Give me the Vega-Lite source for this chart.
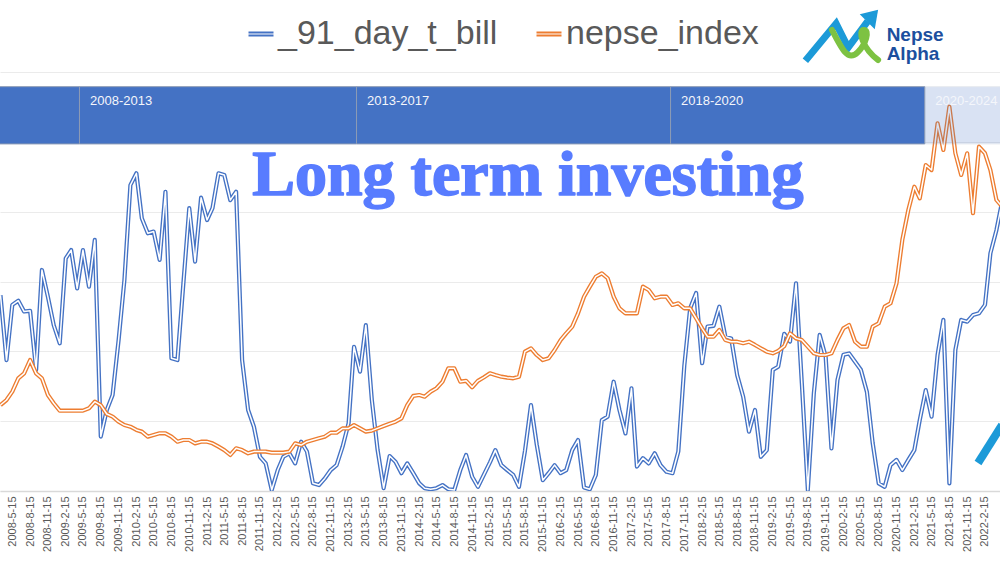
{
  "$schema": "https://vega.github.io/schema/vega-lite/v6.json",
  "width": 1000,
  "height": 563,
  "autosize": {"type": "none", "contains": "padding"},
  "padding": {"left": 0, "top": 72, "right": 0, "bottom": 72},
  "background": "#ffffff",
  "config": {
    "view": {"stroke": null},
    "font": "Liberation Sans",
    "axisX": {
      "labelAngle": 270, "labelPadding": 5, "labelFontSize": 11, "labelColor": "#595959", "labelFont": "Liberation Sans",
      "labelOverlap": false, "labelFlush": false, "ticks": false, "grid": false, "domainColor": "#D9D9D9", "domainWidth": 1.5
    }
  },
  "datasets": {
    "monthly": [
      {"date": "2008-03-15", "t_bill": 5.61, "nepse": 718},
      {"date": "2008-04-15", "t_bill": 3.75, "nepse": 760},
      {"date": "2008-05-15", "t_bill": 5.33, "nepse": 830},
      {"date": "2008-06-15", "t_bill": 5.45, "nepse": 941},
      {"date": "2008-07-15", "t_bill": 5.14, "nepse": 983},
      {"date": "2008-08-15", "t_bill": 5.16, "nepse": 1094},
      {"date": "2008-09-15", "t_bill": 3.47, "nepse": 983},
      {"date": "2008-10-15", "t_bill": 6.33, "nepse": 941},
      {"date": "2008-11-15", "t_bill": 5.56, "nepse": 802},
      {"date": "2008-12-15", "t_bill": 4.75, "nepse": 733},
      {"date": "2009-01-15", "t_bill": 4.23, "nepse": 671},
      {"date": "2009-02-15", "t_bill": 6.66, "nepse": 671},
      {"date": "2009-03-15", "t_bill": 6.90, "nepse": 671},
      {"date": "2009-04-15", "t_bill": 5.80, "nepse": 671},
      {"date": "2009-05-15", "t_bill": 6.90, "nepse": 671},
      {"date": "2009-06-15", "t_bill": 5.85, "nepse": 691},
      {"date": "2009-07-15", "t_bill": 7.19, "nepse": 746},
      {"date": "2009-08-15", "t_bill": 1.56, "nepse": 718},
      {"date": "2009-09-15", "t_bill": 2.32, "nepse": 643},
      {"date": "2009-10-15", "t_bill": 2.75, "nepse": 621},
      {"date": "2009-11-15", "t_bill": 4.32, "nepse": 579},
      {"date": "2009-12-15", "t_bill": 6.04, "nepse": 551},
      {"date": "2010-01-15", "t_bill": 8.76, "nepse": 537},
      {"date": "2010-02-15", "t_bill": 9.10, "nepse": 510},
      {"date": "2010-03-15", "t_bill": 7.81, "nepse": 496},
      {"date": "2010-04-15", "t_bill": 7.38, "nepse": 454},
      {"date": "2010-05-15", "t_bill": 7.43, "nepse": 468},
      {"date": "2010-06-15", "t_bill": 6.62, "nepse": 482},
      {"date": "2010-07-15", "t_bill": 8.57, "nepse": 482},
      {"date": "2010-08-15", "t_bill": 3.80, "nepse": 454},
      {"date": "2010-09-15", "t_bill": 3.75, "nepse": 412},
      {"date": "2010-10-15", "t_bill": 5.90, "nepse": 426},
      {"date": "2010-11-15", "t_bill": 8.10, "nepse": 426},
      {"date": "2010-12-15", "t_bill": 6.57, "nepse": 398},
      {"date": "2011-01-15", "t_bill": 8.40, "nepse": 412},
      {"date": "2011-02-15", "t_bill": 7.76, "nepse": 412},
      {"date": "2011-03-15", "t_bill": 8.10, "nepse": 398},
      {"date": "2011-04-15", "t_bill": 9.10, "nepse": 370},
      {"date": "2011-05-15", "t_bill": 9.05, "nepse": 342},
      {"date": "2011-06-15", "t_bill": 8.33, "nepse": 301},
      {"date": "2011-07-15", "t_bill": 8.57, "nepse": 357},
      {"date": "2011-08-15", "t_bill": 3.75, "nepse": 342},
      {"date": "2011-09-15", "t_bill": 2.32, "nepse": 315},
      {"date": "2011-10-15", "t_bill": 1.84, "nepse": 329},
      {"date": "2011-11-15", "t_bill": 0.98, "nepse": 329},
      {"date": "2011-12-15", "t_bill": 0.79, "nepse": 329},
      {"date": "2012-01-15", "t_bill": 0.03, "nepse": 320},
      {"date": "2012-02-15", "t_bill": 0.60, "nepse": 320},
      {"date": "2012-03-15", "t_bill": 0.98, "nepse": 320},
      {"date": "2012-04-15", "t_bill": 1.08, "nepse": 329},
      {"date": "2012-05-15", "t_bill": 0.79, "nepse": 398},
      {"date": "2012-06-15", "t_bill": 1.41, "nepse": 384},
      {"date": "2012-07-15", "t_bill": 1.13, "nepse": 412},
      {"date": "2012-08-15", "t_bill": 0.22, "nepse": 426},
      {"date": "2012-09-15", "t_bill": 0.17, "nepse": 440},
      {"date": "2012-10-15", "t_bill": 0.36, "nepse": 454},
      {"date": "2012-11-15", "t_bill": 0.60, "nepse": 487},
      {"date": "2012-12-15", "t_bill": 0.74, "nepse": 487},
      {"date": "2013-01-15", "t_bill": 1.27, "nepse": 523},
      {"date": "2013-02-15", "t_bill": 1.94, "nepse": 523},
      {"date": "2013-03-15", "t_bill": 4.13, "nepse": 551},
      {"date": "2013-04-15", "t_bill": 3.42, "nepse": 523},
      {"date": "2013-05-15", "t_bill": 4.75, "nepse": 496},
      {"date": "2013-06-15", "t_bill": 2.61, "nepse": 504},
      {"date": "2013-07-15", "t_bill": 1.17, "nepse": 523},
      {"date": "2013-08-15", "t_bill": 0.08, "nepse": 543},
      {"date": "2013-09-15", "t_bill": 1.00, "nepse": 562},
      {"date": "2013-10-15", "t_bill": 0.84, "nepse": 579},
      {"date": "2013-11-15", "t_bill": 0.51, "nepse": 607},
      {"date": "2013-12-15", "t_bill": 0.79, "nepse": 718},
      {"date": "2014-01-15", "t_bill": 0.51, "nepse": 794},
      {"date": "2014-02-15", "t_bill": 0.22, "nepse": 802},
      {"date": "2014-03-15", "t_bill": 0.08, "nepse": 788},
      {"date": "2014-04-15", "t_bill": 0.05, "nepse": 830},
      {"date": "2014-05-15", "t_bill": 0.08, "nepse": 858},
      {"date": "2014-06-15", "t_bill": 0.17, "nepse": 913},
      {"date": "2014-07-15", "t_bill": 0.05, "nepse": 1025},
      {"date": "2014-08-15", "t_bill": 0.03, "nepse": 1025},
      {"date": "2014-09-15", "t_bill": 0.60, "nepse": 913},
      {"date": "2014-10-15", "t_bill": 1.03, "nepse": 920},
      {"date": "2014-11-15", "t_bill": 0.41, "nepse": 866},
      {"date": "2014-12-15", "t_bill": 0.12, "nepse": 920},
      {"date": "2015-01-15", "t_bill": 0.47, "nepse": 950},
      {"date": "2015-02-15", "t_bill": 0.82, "nepse": 983},
      {"date": "2015-03-15", "t_bill": 1.17, "nepse": 969},
      {"date": "2015-04-15", "t_bill": 0.74, "nepse": 955},
      {"date": "2015-05-15", "t_bill": 0.60, "nepse": 947},
      {"date": "2015-06-15", "t_bill": 0.46, "nepse": 941},
      {"date": "2015-07-15", "t_bill": 0.12, "nepse": 955},
      {"date": "2015-08-15", "t_bill": 1.15, "nepse": 1164},
      {"date": "2015-09-15", "t_bill": 2.46, "nepse": 1192},
      {"date": "2015-10-15", "t_bill": 1.32, "nepse": 1136},
      {"date": "2015-11-15", "t_bill": 0.31, "nepse": 1094},
      {"date": "2015-12-15", "t_bill": 0.51, "nepse": 1108},
      {"date": "2016-01-15", "t_bill": 0.74, "nepse": 1178},
      {"date": "2016-02-15", "t_bill": 0.51, "nepse": 1261},
      {"date": "2016-03-15", "t_bill": 0.60, "nepse": 1317},
      {"date": "2016-04-15", "t_bill": 1.17, "nepse": 1373},
      {"date": "2016-05-15", "t_bill": 1.46, "nepse": 1484},
      {"date": "2016-06-15", "t_bill": 0.10, "nepse": 1623},
      {"date": "2016-07-15", "t_bill": 0.05, "nepse": 1707},
      {"date": "2016-08-15", "t_bill": 0.46, "nepse": 1790},
      {"date": "2016-09-15", "t_bill": 2.03, "nepse": 1818},
      {"date": "2016-10-15", "t_bill": 2.13, "nepse": 1777},
      {"date": "2016-11-15", "t_bill": 3.13, "nepse": 1623},
      {"date": "2016-12-15", "t_bill": 2.32, "nepse": 1526},
      {"date": "2017-01-15", "t_bill": 1.65, "nepse": 1484},
      {"date": "2017-02-15", "t_bill": 2.94, "nepse": 1484},
      {"date": "2017-03-15", "t_bill": 0.70, "nepse": 1484},
      {"date": "2017-04-15", "t_bill": 0.94, "nepse": 1707},
      {"date": "2017-05-15", "t_bill": 0.79, "nepse": 1679},
      {"date": "2017-06-15", "t_bill": 1.08, "nepse": 1610},
      {"date": "2017-07-15", "t_bill": 0.74, "nepse": 1623},
      {"date": "2017-08-15", "t_bill": 0.55, "nepse": 1623},
      {"date": "2017-09-15", "t_bill": 0.51, "nepse": 1554},
      {"date": "2017-10-15", "t_bill": 1.13, "nepse": 1568},
      {"date": "2017-11-15", "t_bill": 3.59, "nepse": 1526},
      {"date": "2017-12-15", "t_bill": 5.23, "nepse": 1526},
      {"date": "2018-01-15", "t_bill": 5.67, "nepse": 1443},
      {"date": "2018-02-15", "t_bill": 3.66, "nepse": 1359},
      {"date": "2018-03-15", "t_bill": 4.71, "nepse": 1289},
      {"date": "2018-04-15", "t_bill": 4.73, "nepse": 1289},
      {"date": "2018-05-15", "t_bill": 5.28, "nepse": 1345},
      {"date": "2018-06-15", "t_bill": 4.42, "nepse": 1261},
      {"date": "2018-07-15", "t_bill": 4.37, "nepse": 1247},
      {"date": "2018-08-15", "t_bill": 3.32, "nepse": 1247},
      {"date": "2018-09-15", "t_bill": 2.70, "nepse": 1234},
      {"date": "2018-10-15", "t_bill": 1.70, "nepse": 1247},
      {"date": "2018-11-15", "t_bill": 2.32, "nepse": 1220},
      {"date": "2018-12-15", "t_bill": 0.98, "nepse": 1192},
      {"date": "2019-01-15", "t_bill": 1.17, "nepse": 1164},
      {"date": "2019-02-15", "t_bill": 3.47, "nepse": 1150},
      {"date": "2019-03-15", "t_bill": 3.56, "nepse": 1170},
      {"date": "2019-04-15", "t_bill": 4.50, "nepse": 1210},
      {"date": "2019-05-15", "t_bill": 4.28, "nepse": 1317},
      {"date": "2019-06-15", "t_bill": 5.95, "nepse": 1275},
      {"date": "2019-07-15", "t_bill": 3.08, "nepse": 1261},
      {"date": "2019-08-15", "t_bill": 0.03, "nepse": 1206},
      {"date": "2019-09-15", "t_bill": 2.80, "nepse": 1150},
      {"date": "2019-10-15", "t_bill": 4.47, "nepse": 1136},
      {"date": "2019-11-15", "t_bill": 3.85, "nepse": 1136},
      {"date": "2019-12-15", "t_bill": 1.22, "nepse": 1150},
      {"date": "2020-01-15", "t_bill": 3.18, "nepse": 1261},
      {"date": "2020-02-15", "t_bill": 3.90, "nepse": 1359},
      {"date": "2020-03-15", "t_bill": 3.94, "nepse": 1387},
      {"date": "2020-04-15", "t_bill": 3.70, "nepse": 1247},
      {"date": "2020-05-15", "t_bill": 3.47, "nepse": 1206},
      {"date": "2020-06-15", "t_bill": 2.84, "nepse": 1206},
      {"date": "2020-07-15", "t_bill": 1.37, "nepse": 1373},
      {"date": "2020-08-15", "t_bill": 0.22, "nepse": 1401},
      {"date": "2020-09-15", "t_bill": 0.12, "nepse": 1540},
      {"date": "2020-10-15", "t_bill": 0.74, "nepse": 1568},
      {"date": "2020-11-15", "t_bill": 0.89, "nepse": 1735},
      {"date": "2020-12-15", "t_bill": 0.60, "nepse": 2097},
      {"date": "2021-01-15", "t_bill": 0.89, "nepse": 2347},
      {"date": "2021-02-15", "t_bill": 1.17, "nepse": 2542},
      {"date": "2021-03-15", "t_bill": 2.03, "nepse": 2445},
      {"date": "2021-04-15", "t_bill": 2.89, "nepse": 2723},
      {"date": "2021-05-15", "t_bill": 2.13, "nepse": 2681},
      {"date": "2021-06-15", "t_bill": 3.90, "nepse": 3071},
      {"date": "2021-07-15", "t_bill": 4.90, "nepse": 2849},
      {"date": "2021-08-15", "t_bill": 0.22, "nepse": 3210},
      {"date": "2021-09-15", "t_bill": 4.04, "nepse": 2821},
      {"date": "2021-10-15", "t_bill": 4.90, "nepse": 2640},
      {"date": "2021-11-15", "t_bill": 4.85, "nepse": 2821},
      {"date": "2021-12-15", "t_bill": 5.04, "nepse": 2320},
      {"date": "2022-01-15", "t_bill": 5.09, "nepse": 2876},
      {"date": "2022-02-15", "t_bill": 5.33, "nepse": 2821},
      {"date": "2022-03-15", "t_bill": 6.81, "nepse": 2681},
      {"date": "2022-04-15", "t_bill": 7.47, "nepse": 2431},
      {"date": "2022-05-15", "t_bill": 8.30, "nepse": 2375}
    ],
    "periods": [
      {"start": "2007-12-01", "end": "2009-04-27", "period": null, "status": "past"},
      {"start": "2009-04-27", "end": "2013-03-28", "period": "2008-2013", "status": "past"},
      {"start": "2013-03-28", "end": "2017-09-05", "period": "2013-2017", "status": "past"},
      {"start": "2017-09-05", "end": "2021-04-10", "period": "2018-2020", "status": "past"},
      {"start": "2021-04-10", "end": "2024-12-31", "period": "2020-2024", "status": "current"}
    ]
  },
  "layer": [
    {
      "data": {"name": "monthly"},
      "mark": {"type": "line", "clip": true, "strokeWidth": 4.2, "strokeJoin": "round"},
      "encoding": {
        "x": {
          "field": "date", "type": "temporal", "title": null,
          "scale": {"type": "utc", "domain": [1205323200000, 1651579200000]},
          "axis": {
            "format": "%Y-%-m-%-d",
            "labelOverlap": false,
            "labelBound": false,
            "labelSeparation": 0,
            "tickCount": 200,
            "values": [
              1210809600000, 1218758400000, 1226707200000,
              1234656000000, 1242345600000, 1250294400000, 1258243200000,
              1266192000000, 1273881600000, 1281830400000, 1289779200000,
              1297728000000, 1305417600000, 1313366400000, 1321315200000,
              1329264000000, 1337040000000, 1344988800000, 1352937600000,
              1360886400000, 1368576000000, 1376524800000, 1384473600000,
              1392422400000, 1400112000000, 1408060800000, 1416009600000,
              1423958400000, 1431648000000, 1439596800000, 1447545600000,
              1455494400000, 1463270400000, 1471219200000, 1479168000000,
              1487116800000, 1494806400000, 1502755200000, 1510704000000,
              1518652800000, 1526342400000, 1534291200000, 1542240000000,
              1550188800000, 1557878400000, 1565827200000, 1573776000000,
              1581724800000, 1589500800000, 1597449600000, 1605398400000,
              1613347200000, 1621036800000, 1628985600000, 1636934400000,
              1644883200000
            ]
          }
        },
        "y": {
          "field": "t_bill", "type": "quantitative", "title": null,
          "scale": {"domain": [0, 12], "nice": false},
          "axis": {"values": [0, 2, 4, 6, 8, 10, 12], "labels": false, "ticks": false, "domain": false, "grid": true, "gridColor": "#EBEBEB", "gridWidth": 1}
        },
        "color": {
          "datum": "_91_day_t_bill", "type": "nominal",
          "scale": {"domain": ["_91_day_t_bill", "nepse_index"], "range": ["#4472C4", "#ED7D31"]},
          "legend": {
            "orient": "none", "legendX": 244, "legendY": -55, "direction": "horizontal", "title": null, "padding": 0,
            "symbolType": "M-1,-0.12H1M-1,0.12H1", "symbolSize": 625, "symbolStrokeWidth": 2,
            "labelFontSize": 34, "labelColor": "#595959", "labelFont": "Liberation Sans", "labelOffset": 0, "labelLimit": 400,
            "columnPadding": 34
          }
        }
      }
    },
    {
      "data": {"name": "monthly"},
      "mark": {"type": "line", "clip": true, "strokeWidth": 1.5, "strokeJoin": "round", "color": "#ffffff"},
      "encoding": {
        "x": {"field": "date", "type": "temporal", "title": null, "scale": {"type": "utc", "domain": [1205323200000, 1651579200000]}},
        "y": {"field": "t_bill", "type": "quantitative", "axis": null, "scale": {"domain": [0, 12], "nice": false}}
      }
    },
    {
      "data": {"name": "monthly"},
      "mark": {"type": "line", "clip": true, "strokeWidth": 4.2, "strokeJoin": "round"},
      "encoding": {
        "x": {"field": "date", "type": "temporal", "title": null, "scale": {"type": "utc", "domain": [1205323200000, 1651579200000]}},
        "y": {"field": "nepse", "type": "quantitative", "axis": null, "scale": {"domain": [0, 3500], "nice": false}},
        "color": {
          "datum": "nepse_index", "type": "nominal",
          "scale": {"domain": ["_91_day_t_bill", "nepse_index"], "range": ["#4472C4", "#ED7D31"]},
          "legend": {
            "orient": "none", "legendX": 244, "legendY": -55, "direction": "horizontal", "title": null, "padding": 0,
            "symbolType": "M-1,-0.12H1M-1,0.12H1", "symbolSize": 625, "symbolStrokeWidth": 2,
            "labelFontSize": 34, "labelColor": "#595959", "labelFont": "Liberation Sans", "labelOffset": 0, "labelLimit": 400,
            "columnPadding": 34
          }
        }
      }
    },
    {
      "data": {"name": "monthly"},
      "mark": {"type": "line", "clip": true, "strokeWidth": 1.5, "strokeJoin": "round", "color": "#ffffff"},
      "encoding": {
        "x": {"field": "date", "type": "temporal", "title": null, "scale": {"type": "utc", "domain": [1205323200000, 1651579200000]}},
        "y": {"field": "nepse", "type": "quantitative", "axis": null, "scale": {"domain": [0, 3500], "nice": false}}
      }
    },
    {
      "data": {"name": "periods"},
      "mark": {"type": "rect", "clip": true, "color": "#4472C4", "stroke": "#8C9BB5", "strokeWidth": 1},
      "encoding": {
        "x": {"field": "start", "type": "temporal", "title": null, "scale": {"type": "utc", "domain": [1205323200000, 1651579200000]}},
        "x2": {"field": "end"},
        "y": {"datum": 11.58, "type": "quantitative", "axis": null, "scale": {"domain": [0, 12], "nice": false}},
        "y2": {"datum": 9.94},
        "opacity": {"field": "status", "type": "nominal", "scale": {"domain": ["past", "current"], "range": [1, 0.2]}, "legend": null}
      }
    },
    {
      "data": {"name": "periods"},
      "transform": [{"filter": "datum.period != null"}],
      "mark": {"type": "text", "align": "left", "baseline": "middle", "dx": 10.5, "fontSize": 13, "font": "Liberation Sans", "color": "#F4F6FB"},
      "encoding": {
        "x": {"field": "start", "type": "temporal", "title": null, "scale": {"type": "utc", "domain": [1205323200000, 1651579200000]}},
        "y": {"datum": 11.17, "type": "quantitative", "axis": null, "scale": {"domain": [0, 12], "nice": false}},
        "text": {"field": "period"}
      }
    },
    {
      "data": {"values": [{"caption": "Long term investing"}]},
      "mark": {"type": "text", "align": "center", "baseline": "alphabetic", "font": "Liberation Serif", "fontWeight": "bold", "fontSize": 64, "color": "#587CFF", "stroke": "#587CFF", "strokeWidth": 1.6, "strokeJoin": "round"},
      "encoding": {
        "x": {"datum": {"year": 2015, "month": 8, "date": 30, "utc": true}, "type": "temporal", "title": null, "scale": {"type": "utc", "domain": [1205323200000, 1651579200000]}},
        "y": {"datum": 8.477, "type": "quantitative", "axis": null, "scale": {"domain": [0, 12], "nice": false}},
        "text": {"field": "caption"}
      }
    },
    {
      "data": {"values": [{"part": "stroke"}]},
      "mark": {"type": "point", "shape": "M-0.99,0.62L-0.17,-0.37L0.15,0.27L0.67,-0.43", "size": 5625, "filled": false, "color": "#1C9AD8", "strokeWidth": 7, "strokeJoin": "miter", "opacity": 1},
      "encoding": {
        "x": {"datum": {"year": 2020, "month": 2, "date": 10, "utc": true}, "type": "temporal", "title": null, "scale": {"type": "utc", "domain": [1205323200000, 1651579200000]}},
        "y": {"datum": 12.988, "type": "quantitative", "axis": null, "scale": {"domain": [0, 12], "nice": false}}
      }
    },
    {
      "data": {"values": [{"part": "arrow"}]},
      "mark": {"type": "point", "shape": "M0.95,-0.74L0.46,-0.62L0.86,-0.22Z", "size": 5625, "filled": true, "color": "#1C9AD8", "opacity": 1},
      "encoding": {
        "x": {"datum": {"year": 2020, "month": 2, "date": 10, "utc": true}, "type": "temporal", "title": null, "scale": {"type": "utc", "domain": [1205323200000, 1651579200000]}},
        "y": {"datum": 12.988, "type": "quantitative", "axis": null, "scale": {"domain": [0, 12], "nice": false}}
      }
    },
    {
      "data": {"values": [{"part": "loop"}]},
      "mark": {"type": "point", "shape": "M-0.28,-0.2C-0.01,0.33,0.15,0.65,0.41,0.39C0.63,0.17,0.73,-0.2,0.57,-0.2C0.41,-0.2,0.52,0.28,0.95,0.6", "size": 5625, "filled": false, "color": "#7DC242", "strokeWidth": 6, "strokeCap": "round", "opacity": 1},
      "encoding": {
        "x": {"datum": {"year": 2020, "month": 2, "date": 10, "utc": true}, "type": "temporal", "title": null, "scale": {"type": "utc", "domain": [1205323200000, 1651579200000]}},
        "y": {"datum": 12.988, "type": "quantitative", "axis": null, "scale": {"domain": [0, 12], "nice": false}}
      }
    },
    {
      "data": {"values": [{"word": "Nepse"}]},
      "mark": {"type": "text", "align": "left", "baseline": "alphabetic", "font": "Liberation Sans", "fontWeight": "bold", "fontSize": 19, "color": "#1C4F9E"},
      "encoding": {
        "x": {"datum": {"year": 2020, "month": 9, "date": 25, "utc": true}, "type": "temporal", "title": null, "scale": {"type": "utc", "domain": [1205323200000, 1651579200000]}},
        "y": {"datum": 12.9, "type": "quantitative", "axis": null, "scale": {"domain": [0, 12], "nice": false}},
        "text": {"field": "word"}
      }
    },
    {
      "data": {"values": [{"word": "Alpha"}]},
      "mark": {"type": "text", "align": "left", "baseline": "alphabetic", "font": "Liberation Sans", "fontWeight": "bold", "fontSize": 19, "color": "#1C4F9E"},
      "encoding": {
        "x": {"datum": {"year": 2020, "month": 9, "date": 25, "utc": true}, "type": "temporal", "title": null, "scale": {"type": "utc", "domain": [1205323200000, 1651579200000]}},
        "y": {"datum": 12.33, "type": "quantitative", "axis": null, "scale": {"domain": [0, 12], "nice": false}},
        "text": {"field": "word"}
      }
    },
    {
      "data": {"values": [{"part": "corner mark"}]},
      "mark": {"type": "point", "shape": "M-0.6,0.95L0.6,-0.95", "size": 1600, "filled": false, "color": "#1C9AD8", "strokeWidth": 8, "opacity": 1, "clip": true},
      "encoding": {
        "x": {"datum": {"year": 2022, "month": 3, "date": 13, "utc": true}, "type": "temporal", "title": null, "scale": {"type": "utc", "domain": [1205323200000, 1651579200000]}},
        "y": {"datum": 1.346, "type": "quantitative", "axis": null, "scale": {"domain": [0, 12], "nice": false}}
      }
    }
  ],
  "resolve": {"scale": {"y": "independent"}}
}
